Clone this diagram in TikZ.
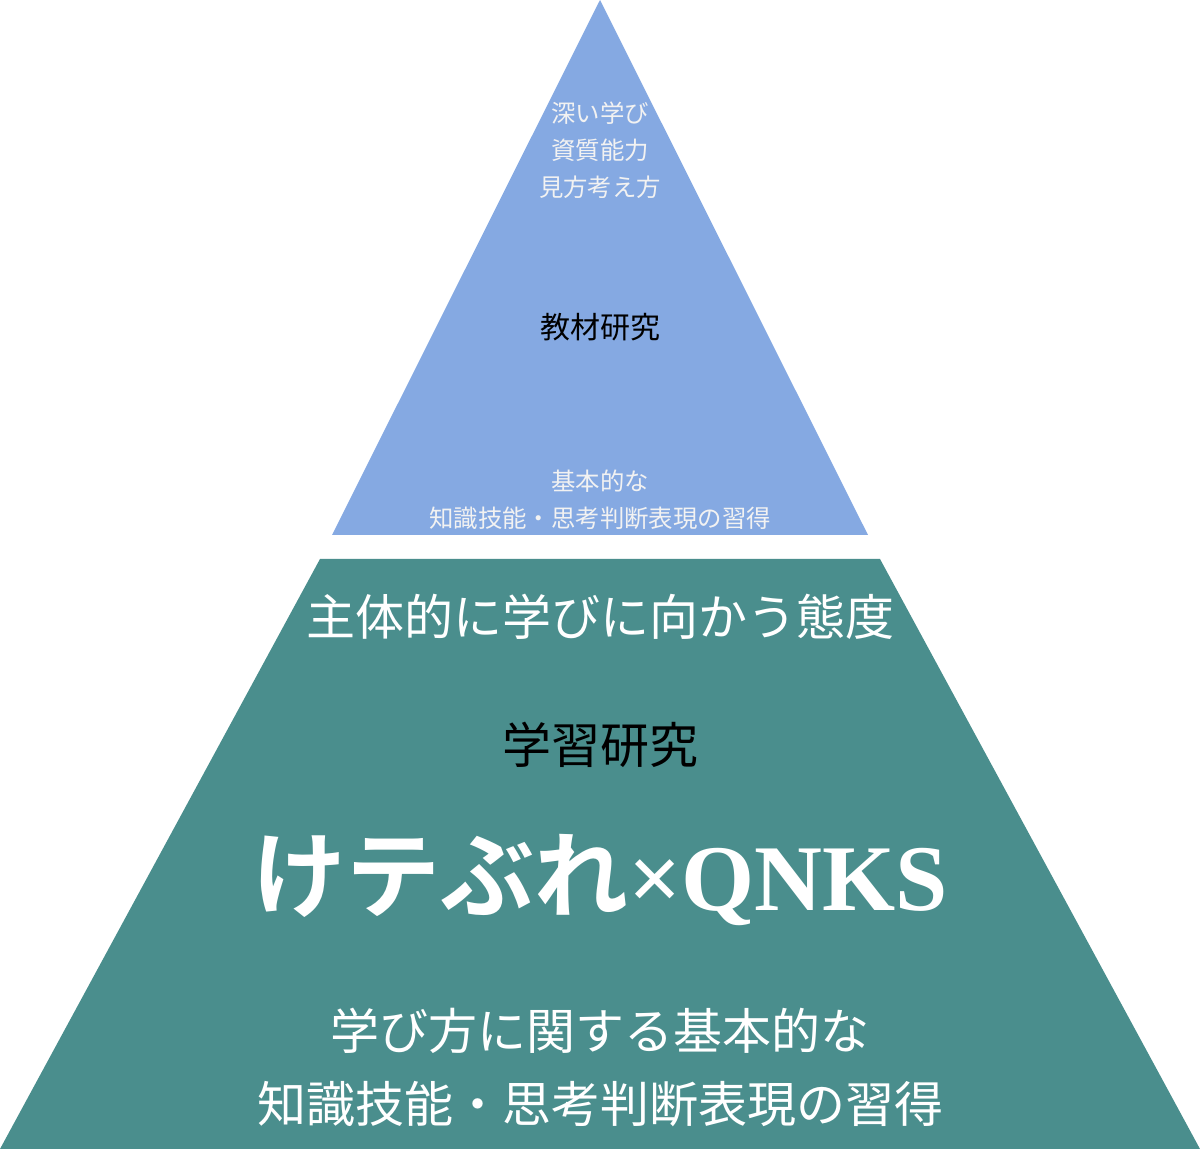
\documentclass[tikz,border=0pt]{standalone}
\usepackage{fontspec}
\newfontfamily\jp{Noto Sans CJK JP}
\newfontfamily\jpb{Noto Sans CJK JP Bold}
\newfontfamily\serifb{Liberation Serif}
\definecolor{topc}{HTML}{85A9E2}
\definecolor{botc}{HTML}{4A8E8D}
\definecolor{lt}{HTML}{F2F2F2}
\begin{document}
\begin{tikzpicture}[x=0.5pt,y=-0.5pt,
  small/.style={font=\jp\fontsize{12.2}{18.5}\selectfont,text=lt,align=center,inner sep=0},
  big/.style={font=\jp\fontsize{24.5}{36.5}\selectfont,text=white,align=center,inner sep=0}]
\useasboundingbox (0,0) rectangle (1200,1149);
\fill[white] (0,0) rectangle (1200,1149);
\fill[topc] (600,0) -- (868,535) -- (332,535) -- cycle;
\fill[botc] (320,559) -- (880,559) -- (1200,1149) -- (0,1149) -- cycle;
\node[small] (t1) at (600,150) {深い学び\\資質能力\\見方考え方};
\node[small,text=black,font=\jp\fontsize{15}{18}\selectfont] (t2) at (600,327) {教材研究};
\node[small] (t3) at (600,500) {基本的な\\知識技能・思考判断表現の習得};
\node[big] (b1) at (600,617) {主体的に学びに向かう態度};
\node[big,text=black] (b2) at (600,745) {学習研究};
\node[inner sep=0,text=white,font=\fontsize{47}{50}\selectfont] (b3) at (600,880) {{\jpb けテぶれ}{\serifb\bfseries ×QNKS}};
\node[big] (b4) at (600,1067) {学び方に関する基本的な\\知識技能・思考判断表現の習得};
\end{tikzpicture}
\end{document}
